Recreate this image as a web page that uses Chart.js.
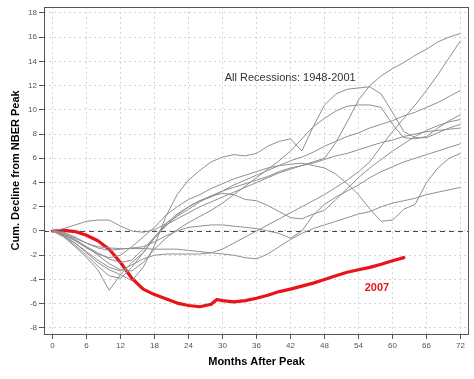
<!DOCTYPE html>
<html><head><meta charset="utf-8">
<script src="https://cdn.jsdelivr.net/npm/chart.js@4.4.0/dist/chart.umd.min.js"></script>
<style>html,body{margin:0;padding:0;background:#fff;}#wrap{width:474px;height:379px;}</style>
</head><body><div id="wrap"><canvas id="c" width="474" height="379"></canvas></div>
<script>
// Months after peak (2-month sampling) for the 1948-2001 recessions
const months = [0,2,4,6,8,10,12,14,16,18,20,22,24,26,28,30,32,34,36,38,40,42,44,46,48,50,52,54,56,58,60,62,64,66,68,70,72];
const recA = [0,-0.3,-0.8,-1.3,-1.8,-2.3,-2.6,-2.4,-1.5,-0.5,0.5,1.0,1.5,2.0,2.4,2.8,3.2,3.6,4.0,4.4,4.8,5.1,5.4,5.7,6.0,7.3,9.0,10.8,12.0,12.8,13.4,13.9,14.5,15.0,15.6,16.0,16.3];
const recB = [0,-0.4,-1.0,-1.7,-2.4,-3.0,-3.3,-2.8,-2.3,-2.0,-1.9,-1.9,-1.9,-1.9,-1.8,-1.5,-1.0,-0.5,0.0,0.5,1.0,1.5,2.0,2.5,3.0,3.6,4.2,4.9,5.7,7.0,8.2,9.3,10.4,11.6,12.9,14.3,15.7];
const recC = [0,-0.4,-1.0,-1.8,-2.6,-3.2,-3.6,-4.1,-3.0,-1.2,1.2,3.0,4.2,5.0,5.7,6.1,6.3,6.2,6.4,7.0,7.4,7.6,6.6,8.6,10.4,11.3,11.7,11.8,11.9,11.3,9.8,8.2,7.7,7.7,8.1,8.5,8.8];
const recD = [0,-0.2,-0.7,-1.3,-2.0,-2.7,-3.2,-3.3,-2.6,-1.5,-0.6,0.1,0.7,1.2,1.7,2.3,3.0,3.7,4.4,5.1,5.8,6.6,7.6,8.6,9.3,9.9,10.3,10.4,10.4,10.2,8.8,7.7,7.6,7.8,8.5,9.1,9.6];
const recE = [0,0.2,0.5,0.8,0.9,0.9,0.4,0.0,-0.1,0.1,0.6,1.2,1.8,2.4,2.9,3.3,3.8,4.2,4.6,5.0,5.4,5.8,6.1,6.5,7.0,7.4,7.8,8.1,8.5,8.8,9.1,9.5,9.8,10.2,10.6,11.1,11.6];
const recF = [0,-0.3,-0.8,-1.4,-1.9,-2.2,-2.0,-1.3,-0.5,0.3,1.3,2.0,2.6,3.0,3.5,3.9,4.3,4.6,4.9,5.2,5.4,5.5,5.6,5.4,5.2,4.7,3.9,3.0,1.8,0.8,0.9,1.8,2.2,4.0,5.2,6.0,6.4];
const recG = [0,-0.1,-0.5,-1.0,-1.4,-1.6,-1.5,-1.4,-1.3,-0.9,-0.4,0.0,0.3,0.4,0.5,0.5,0.4,0.3,0.2,0.0,-0.2,-0.6,0.0,1.3,2.2,2.8,3.3,3.8,4.4,4.9,5.3,5.7,6.0,6.3,6.6,6.9,7.2];
const recH = [0,-0.2,-0.6,-1.0,-1.3,-1.4,-1.45,-1.45,-1.45,-1.5,-1.5,-1.5,-1.6,-1.7,-1.8,-1.9,-2.0,-2.2,-2.3,-1.9,-1.3,-0.7,-0.2,0.2,0.5,0.8,1.1,1.4,1.6,2.0,2.3,2.5,2.7,3.0,3.2,3.4,3.6];
const recI = [0,-0.5,-1.3,-2.2,-3.2,-4.9,-3.6,-2.6,-1.8,-0.6,0.4,1.3,2.0,2.5,2.9,3.1,3.0,2.6,2.5,2.1,1.6,1.1,1.0,1.4,1.7,2.6,3.5,4.4,5.2,5.9,6.6,7.2,7.8,8.3,8.7,9.0,9.2];
const recJ = [0,-0.4,-1.2,-2.0,-2.9,-3.7,-3.9,-3.0,-1.8,-0.5,0.6,1.4,2.0,2.5,2.8,3.3,3.6,3.9,4.2,4.5,4.9,5.2,5.4,5.6,5.9,6.2,6.4,6.7,7.0,7.3,7.5,7.8,8.0,8.2,8.3,8.4,8.5];
// 2007 recession
const months2007 = [0,2,4,6,8,10,12,14,16,18,20,22,24,26,28,29,30,32,34,36,38,40,42,44,46,48,50,52,54,56,58,60,62];
const rec2007 = [0,0.05,-0.05,-0.35,-0.8,-1.5,-2.6,-3.9,-4.8,-5.25,-5.6,-5.95,-6.15,-6.25,-6.05,-5.65,-5.75,-5.85,-5.75,-5.55,-5.3,-5.0,-4.8,-4.55,-4.3,-4.0,-3.7,-3.4,-3.2,-3.0,-2.75,-2.45,-2.2];
// ticks & labels
const xTicks = [0,6,12,18,24,30,36,42,48,54,60,66,72];
const yTicks = [-8,-6,-4,-2,0,2,4,6,8,10,12,14,16,18];
const xTitle = 'Months After Peak';
const yTitle = 'Cum. Decline from NBER Peak';
const noteAll = 'All Recessions: 1948-2001';
const note2007 = '2007';

const FAM = '"Liberation Sans", Arial, sans-serif';
const grayLines = [recA,recB,recC,recD,recE,recF,recG,recH,recI,recJ];

const datasets = grayLines.map(arr => ({
  data: months.map((m,i)=>({x:m,y:arr[i]})),
  borderColor:'#8f8f8f', borderWidth:1, pointRadius:0, tension:0, fill:false
}));
datasets.push({
  data: months2007.map((m,i)=>({x:m,y:rec2007[i]})),
  borderColor:'#e8141a', borderWidth:3.2, pointRadius:0, tension:0, fill:false,
  borderJoinStyle:'round', borderCapStyle:'round'
});

const deco = {
  id:'deco',
  beforeDatasetsDraw(chart){
    const {ctx, chartArea:a, scales:{x,y}} = chart;
    ctx.save();
    ctx.strokeStyle='#4a4a4a'; ctx.lineWidth=1; ctx.setLineDash([5,4]);
    const py = Math.round(y.getPixelForValue(0))+0.5;
    ctx.beginPath(); ctx.moveTo(a.left,py); ctx.lineTo(a.right,py); ctx.stroke();
    ctx.restore();
  },
  afterDraw(chart){
    const {ctx, chartArea:a, scales:{x,y}} = chart;
    ctx.save();
    // frame
    ctx.strokeStyle='#555'; ctx.lineWidth=1;
    ctx.strokeRect(Math.round(a.left)+0.5, Math.round(a.top)+0.5, Math.round(a.right-a.left)-1, Math.round(a.bottom-a.top));
    // titles
    ctx.fillStyle='#000';
    ctx.font='bold 11px '+FAM;
    ctx.textAlign='center'; ctx.textBaseline='middle';
    ctx.fillText(xTitle, (a.left+a.right)/2, 362);
    ctx.save();
    ctx.translate(16,(a.top+a.bottom)/2);
    ctx.rotate(-Math.PI/2);
    ctx.fillText(yTitle,0,0);
    ctx.restore();
    // notes
    ctx.textAlign='left';
    ctx.font='11px '+FAM; ctx.fillStyle='#333';
    ctx.fillText(noteAll, x.getPixelForValue(30.4), y.getPixelForValue(12.6));
    ctx.font='bold 11px '+FAM; ctx.fillStyle='#e8141a';
    ctx.fillText(note2007, x.getPixelForValue(55.1), y.getPixelForValue(-4.72));
    ctx.restore();
  }
};

new Chart(document.getElementById('c'), {
  type:'line',
  data:{datasets},
  options:{
    responsive:false, animation:false, devicePixelRatio:1,
    layout:{padding:{top:4,right:5,left:0,bottom:0}},
    plugins:{legend:{display:false}, tooltip:{enabled:false}},
    scales:{
      x:{type:'linear', min:-1.5, max:73.5,
        afterBuildTicks:s=>{s.ticks = xTicks.map(v=>({value:v}));},
        afterFit:s=>{s.height=45;},
        ticks:{font:{size:8,family:FAM}, color:'#555', padding:2, maxRotation:0, autoSkip:false},
        grid:{color:'#d4d4d4', tickColor:'#555', tickLength:5, tickBorderDash:[]},
        border:{display:false, dash:[2,3]}
      },
      y:{type:'linear', min:-8.5, max:18.5,
        afterBuildTicks:s=>{s.ticks = yTicks.map(v=>({value:v}));},
        afterFit:s=>{s.width=44;},
        ticks:{font:{size:8,family:FAM}, color:'#555', padding:2, autoSkip:false},
        grid:{color:'#d4d4d4', tickColor:'#555', tickLength:5, tickBorderDash:[]},
        border:{display:false, dash:[2,3]}
      }
    }
  },
  plugins:[deco]
});
</script></body></html>
